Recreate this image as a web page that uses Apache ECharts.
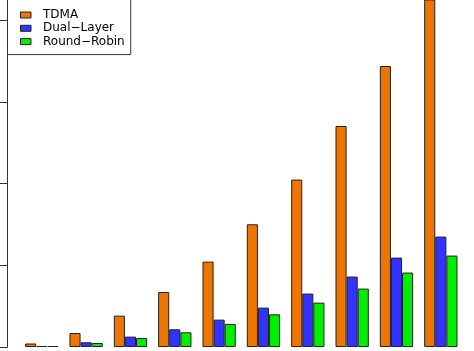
<!DOCTYPE html>
<html>
<head>
<meta charset="utf-8">
<script src="https://cdn.jsdelivr.net/npm/echarts@6/dist/echarts.min.js"></script>
<style>
  html, body { margin: 0; padding: 0; background: #fff; }
</style>
</head>
<body>
<div id="Echarts" style="width: 474px; height: 351px"></div>
<script>
// 10 groups, values (100 = one y tick step)
var groups = ['1', '2', '3', '4', '5', '6', '7', '8', '9', '10']
var tdma = [4.3, 17.1, 38.4, 67.3, 104.5, 150.2, 204.9, 270.5, 343.9, 428]
var dualLayer = [1.2, 5.8, 12.7, 21.7, 33.5, 48.2, 65.4, 86.2, 109.4, 135.1]
var roundRobin = [1.2, 4.9, 11, 18, 28.2, 40, 54.3, 71.5, 91.1, 111.9]
var yTicks = [0, 100, 200, 300, 400]

var myChart = echarts.init(document.getElementById('Echarts'))

function bar(name, data, color) {
  return {
    name: name,
    type: 'bar',
    data: data,
    barWidth: 11.1,
    barGap: '0%',
    itemStyle: { color: color, borderColor: '#222', borderWidth: 1 }
  }
}

var option = {
  animation: false,
  backgroundColor: '#fff',
  grid: { left: 19.6, right: 11, top: 0, bottom: 4 },
  legend: {
    orient: 'vertical',
    left: 7.5,
    top: -3.5,
    padding: [12.5, 6, 7, 12.5],
    itemWidth: 10.5,
    itemHeight: 6,
    itemGap: 1.3,
    icon: 'rect',
    backgroundColor: '#fff',
    borderColor: '#333',
    borderWidth: 1,
    borderRadius: 0,
    itemStyle: { borderColor: '#222', borderWidth: 1 },
    textStyle: {
      fontFamily: 'DejaVu Sans',
      fontSize: 12,
      lineHeight: 12,
      color: '#000',
      padding: [0, 0, 0, 7]
    },
    data: ['TDMA', 'Dual\u2212Layer', 'Round\u2212Robin']
  },
  xAxis: {
    type: 'category',
    data: groups,
    axisLine: { show: false },
    axisTick: { show: false },
    axisLabel: { show: false }
  },
  yAxis: {
    type: 'value',
    min: 0,
    max: 424.7,
    offset: 12.1,
    axisLine: { show: true, lineStyle: { color: '#333', width: 1 } },
    axisTick: {
      show: true,
      length: 8,
      customValues: yTicks,
      lineStyle: { color: '#333', width: 1 }
    },
    axisLabel: { show: false },
    splitLine: { show: false }
  },
  series: [
    bar('TDMA', tdma, '#EE7600'),
    bar('Dual\u2212Layer', dualLayer, '#3333FF'),
    bar('Round\u2212Robin', roundRobin, '#00EE00')
  ]
}

myChart.setOption(option)
</script>
</body>
</html>
